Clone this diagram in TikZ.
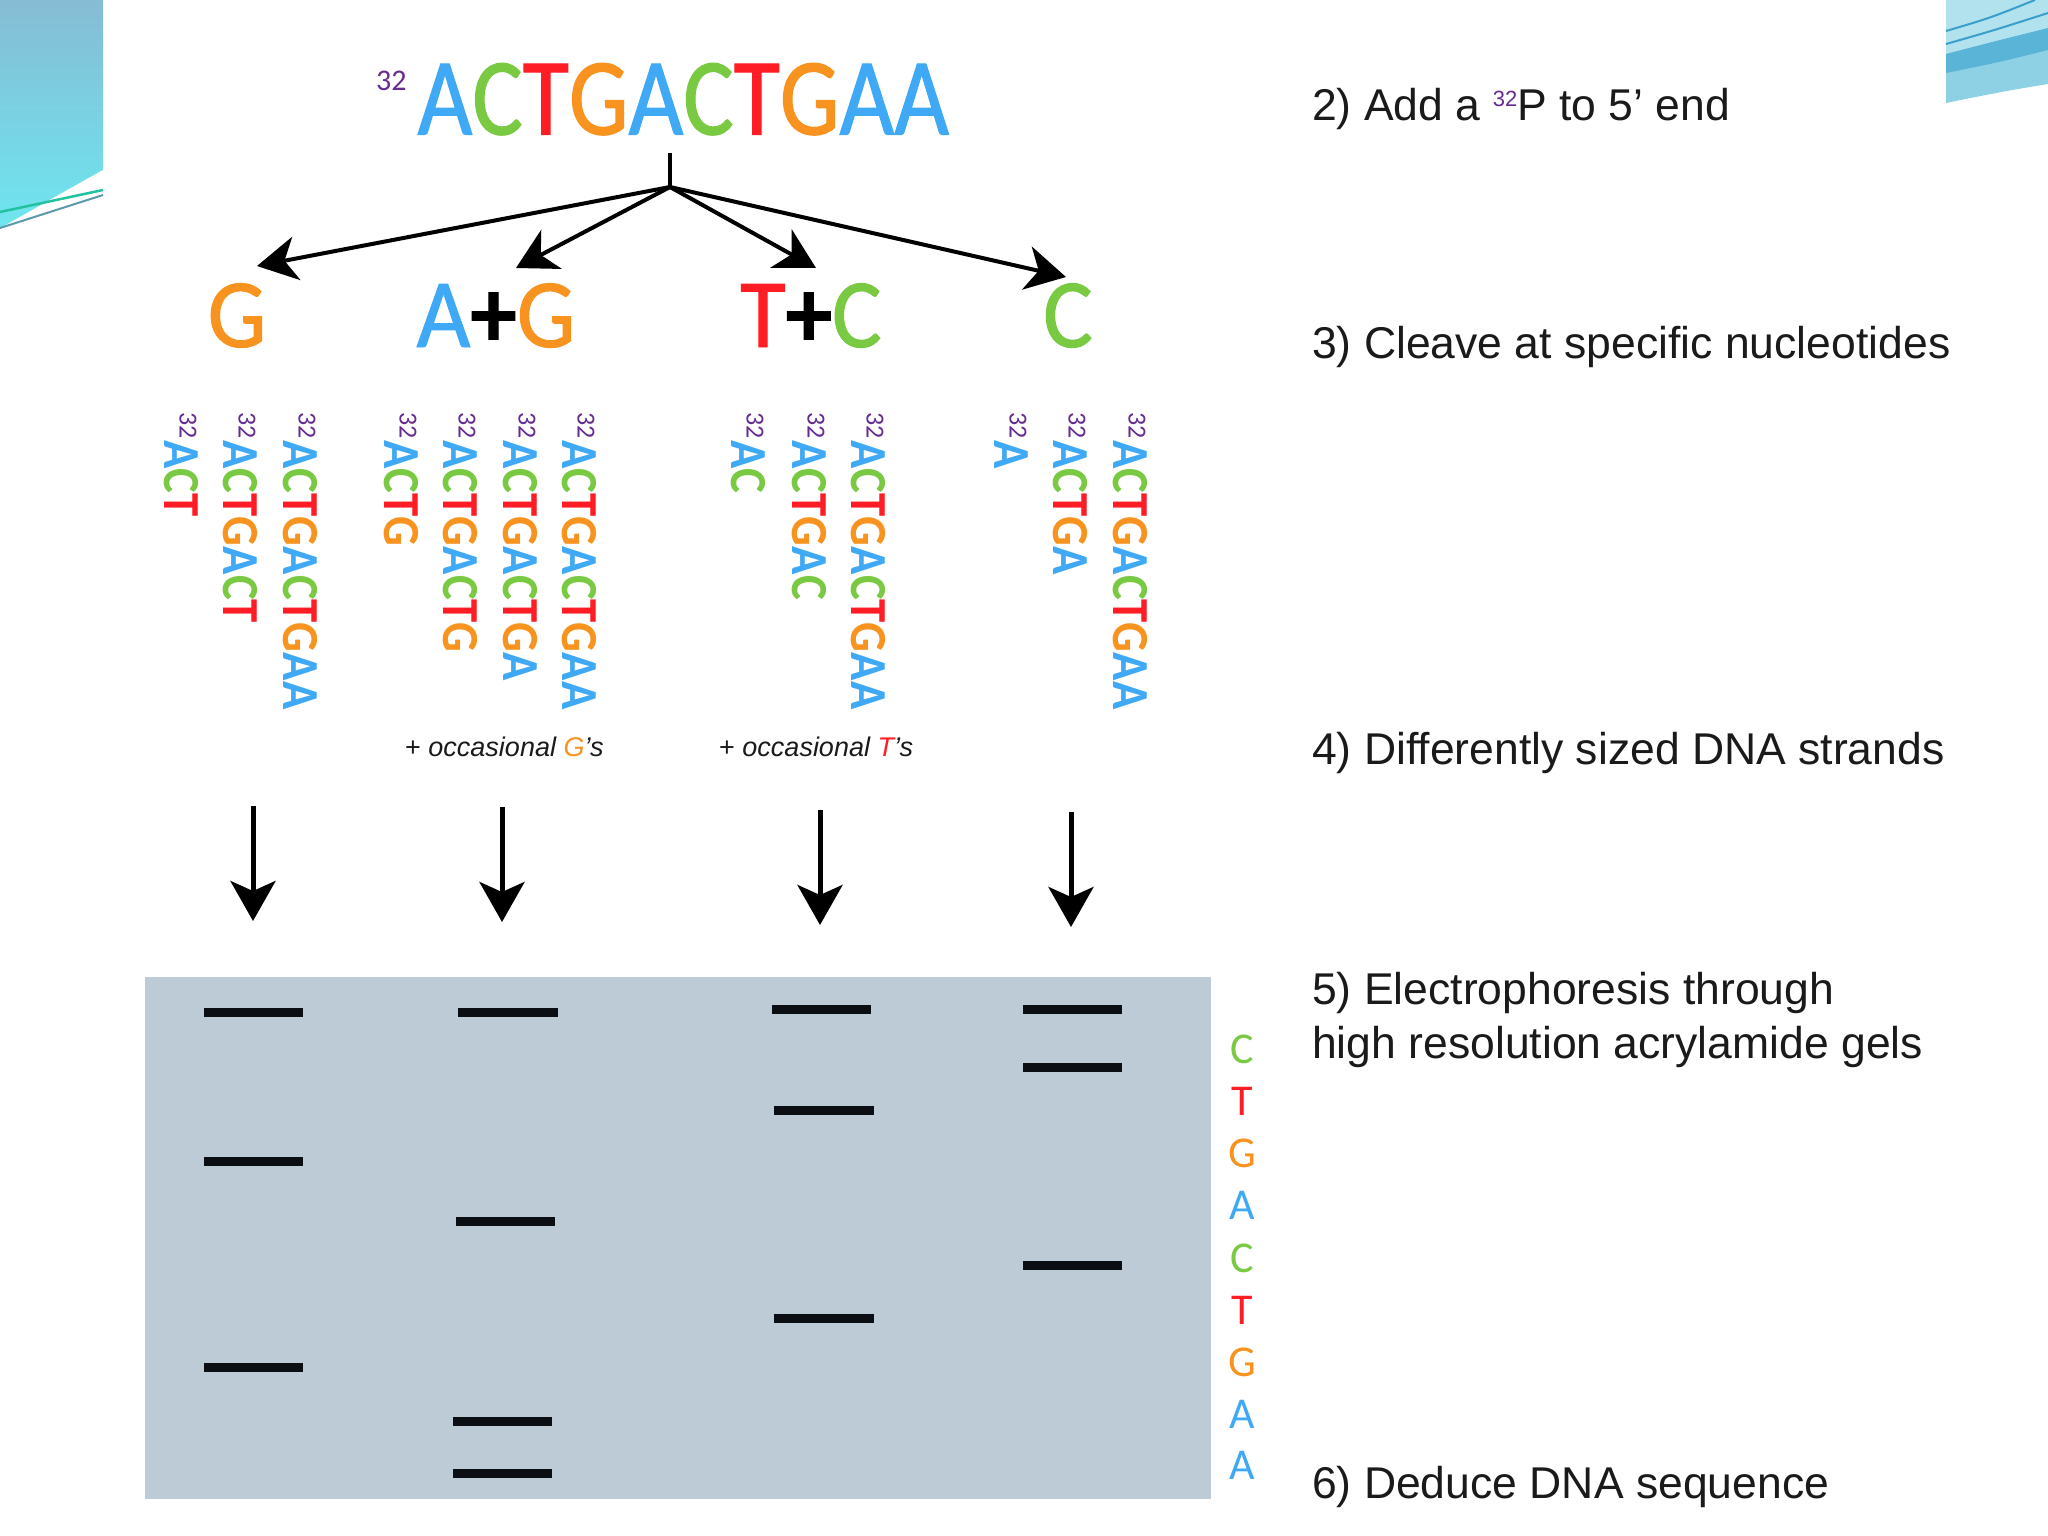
\documentclass[tikz,border=0pt]{standalone}
\usepackage{fontspec}
\setmainfont{Liberation Sans}
\newfontfamily\titlef[FakeStretch=0.86,FakeBold=1]{Carlito}
\newfontfamily\lanef[FakeStretch=0.95,FakeBold=1]{Carlito}
\newfontfamily\strandf[FakeStretch=0.9]{Carlito}
\newfontfamily\seqf{Carlito}
\usetikzlibrary{arrows.meta}
\definecolor{dnaA}{HTML}{3FA9F5}
\definecolor{dnaC}{HTML}{7AC943}
\definecolor{dnaT}{HTML}{FF1D25}
\definecolor{dnaG}{HTML}{F7931E}
\definecolor{isotope}{HTML}{662D91}
\definecolor{gelc}{HTML}{BCCBD5}
\definecolor{bandc}{HTML}{0B0F13}
\definecolor{txt}{HTML}{1A1A1A}
\definecolor{decoTop}{HTML}{86BCD4}
\definecolor{decoBot}{HTML}{6EE6F0}
\definecolor{decoGreen}{HTML}{22C2A0}
\definecolor{decoGray}{HTML}{5A9AAA}
\definecolor{rdLight}{HTML}{B2E2EE}
\definecolor{rdMid}{HTML}{8ED0E4}
\definecolor{rdBand}{HTML}{5AB4D8}
\definecolor{rdLine}{HTML}{3A9FCB}
\newcommand\NucA{\textcolor{dnaA}{A}}
\newcommand\NucC{\textcolor{dnaC}{C}}
\newcommand\NucT{\textcolor{dnaT}{T}}
\newcommand\NucG{\textcolor{dnaG}{G}}
\newcommand\isoS{\raisebox{15pt}{\seqf\mdseries\fontsize{26}{26}\selectfont\color{isotope}32}\hspace{2pt}}
\begin{document}
\begin{tikzpicture}[x=1pt,y=-1pt,
  branch/.style={line width=4pt, -{Stealth[length=40pt,width=44pt,inset=12pt]}},
  droparrow/.style={line width=5pt, -{Stealth[length=40pt,width=45pt,inset=10pt]}},
  lanelbl/.style={anchor=base, inner sep=0, font=\lanef\fontsize{98}{98}\selectfont},
  strand/.style={rotate=-90, anchor=base west, inner sep=0, font=\strandf\bfseries\fontsize{52}{52}\selectfont},
  band/.style={line width=9pt, draw=bandc},
  seqlet/.style={anchor=base, inner sep=0, font=\seqf\fontsize{44}{44}\selectfont},
  caption/.style={anchor=base west, inner sep=0, text=txt, font=\fontsize{44.5}{52}\selectfont},
  occ/.style={anchor=base west, inner sep=0, text=txt, font=\fontsize{27}{30}\selectfont},
]
\useasboundingbox (0,0) rectangle (2048,1536);
\fill[white] (0,0) rectangle (2048,1536);

% left decoration
\shade[top color=decoTop, bottom color=decoBot] (0,0) -- (103,0) -- (103,170) -- (0,228) -- cycle;
\fill[white] (103,170) -- (103,190) -- (45.7,202.3) -- cycle;
\draw[decoGreen, line width=2.5pt] (0,212) -- (103,190);
\draw[decoGray, line width=2pt] (0,228) -- (103,195);

% right decoration
\fill[rdMid] (1946,0) -- (2048,0) -- (2048,84) .. controls (2010,90) and (1975,97) .. (1946,103) -- cycle;
\fill[rdLight] (1946,0) -- (2048,0) -- (2048,28) .. controls (2000,40) .. (1946,54) -- cycle;
\fill[rdBand] (1946,54) .. controls (2000,40) .. (2048,28) -- (2048,50) .. controls (2000,62) .. (1946,73) -- cycle;
\draw[rdLine, line width=2pt] (1946,31) .. controls (1990,18) .. (2035,0);
\draw[rdLine, line width=2pt] (1946,44) .. controls (1995,30) .. (2048,13);

% title sequence
\node[anchor=base west, inner sep=0] (seq) at (376,134.5)
  {\raisebox{43.5pt}{\seqf\fontsize{30}{30}\selectfont\color{isotope}32}\hspace{11pt}%
   \titlef\fontsize{110}{110}\selectfont\NucA\NucC\NucT\NucG\NucA\NucC\NucT\NucG\NucA\NucA};

% branching arrows
\coordinate (stemtop) at (670,153);
\coordinate (hub) at (670,187);
\coordinate (tipG) at (257,266);
\coordinate (tipAG) at (516,268);
\coordinate (tipTC) at (816,268);
\coordinate (tipC) at (1066,277);
\draw[line width=4pt] (stemtop) -- (hub);
\draw[branch] (hub) -- (tipG);
\draw[branch] (hub) -- (tipAG);
\draw[branch] (hub) -- (tipTC);
\draw[branch] (hub) -- (tipC);

% lane labels
\node[lanelbl] (laneG) at (237,347) {\NucG};
\node[lanelbl] (laneAG) at (496,347) {\NucA\textbf{+}\NucG};
\node[lanelbl] (laneTC) at (811,347) {\NucT\textbf{+}\NucC};
\node[lanelbl] (laneC) at (1068,347) {\NucC};

% strands
\node[strand] (g1) at (164.5,412) {\isoS\NucA\NucC\NucT};
\node[strand] (g2) at (223.5,412) {\isoS\NucA\NucC\NucT\NucG\NucA\NucC\NucT};
\node[strand] (g3) at (283.5,412) {\isoS\NucA\NucC\NucT\NucG\NucA\NucC\NucT\NucG\NucA\NucA};
\node[strand] (ag1) at (384.5,412) {\isoS\NucA\NucC\NucT\NucG};
\node[strand] (ag2) at (443.5,412) {\isoS\NucA\NucC\NucT\NucG\NucA\NucC\NucT\NucG};
\node[strand] (ag3) at (503.5,412) {\isoS\NucA\NucC\NucT\NucG\NucA\NucC\NucT\NucG\NucA};
\node[strand] (ag4) at (562.5,412) {\isoS\NucA\NucC\NucT\NucG\NucA\NucC\NucT\NucG\NucA\NucA};
\node[strand] (tc1) at (731.5,412) {\isoS\NucA\NucC};
\node[strand] (tc2) at (792.5,412) {\isoS\NucA\NucC\NucT\NucG\NucA\NucC};
\node[strand] (tc3) at (851.5,412) {\isoS\NucA\NucC\NucT\NucG\NucA\NucC\NucT\NucG\NucA\NucA};
\node[strand] (c1) at (994.5,412) {\isoS\NucA};
\node[strand] (c2) at (1053.5,412) {\isoS\NucA\NucC\NucT\NucG\NucA};
\node[strand] (c3) at (1113.5,412) {\isoS\NucA\NucC\NucT\NucG\NucA\NucC\NucT\NucG\NucA\NucA};

% occasional notes
\node[occ] (occG) at (405,756) {+ \textit{occasional \textcolor{dnaG}{G}'s}};
\node[occ] (occT) at (719,756) {+ \textit{occasional \textcolor{dnaT}{T}'s}};

% down arrows
\coordinate (d1s) at (253,806); \coordinate (d1e) at (253,921);
\coordinate (d2s) at (502,807); \coordinate (d2e) at (502,922);
\coordinate (d3s) at (820,810); \coordinate (d3e) at (820,925);
\coordinate (d4s) at (1071,812); \coordinate (d4e) at (1071,927);
\draw[droparrow] (d1s) -- (d1e);
\draw[droparrow] (d2s) -- (d2e);
\draw[droparrow] (d3s) -- (d3e);
\draw[droparrow] (d4s) -- (d4e);

% gel
\node[fill=gelc, anchor=north west, inner sep=0, minimum width=1066pt, minimum height=522pt] (gel) at (145,977) {};
\draw[band] (204,1012) -- (303,1012);
\draw[band] (204,1161) -- (303,1161);
\draw[band] (204,1367) -- (303,1367);
\draw[band] (458,1012) -- (558,1012);
\draw[band] (456,1221) -- (555,1221);
\draw[band] (453,1421) -- (552,1421);
\draw[band] (453,1473) -- (552,1473);
\draw[band] (772,1009) -- (871,1009);
\draw[band] (774,1110) -- (874,1110);
\draw[band] (774,1318) -- (874,1318);
\draw[band] (1023,1009) -- (1122,1009);
\draw[band] (1023,1067) -- (1122,1067);
\draw[band] (1023,1265) -- (1122,1265);

% deduced sequence
\node[seqlet] (r1) at (1242,1063) {\NucC};
\node[seqlet] (r2) at (1242,1115) {\NucT};
\node[seqlet] (r3) at (1242,1167) {\NucG};
\node[seqlet] (r4) at (1242,1219) {\NucA};
\node[seqlet] (r5) at (1242,1272) {\NucC};
\node[seqlet] (r6) at (1242,1324) {\NucT};
\node[seqlet] (r7) at (1242,1376) {\NucG};
\node[seqlet] (r8) at (1242,1428) {\NucA};
\node[seqlet] (r9) at (1242,1479) {\NucA};

% step captions
\node[caption] (s2) at (1312,121) {2) Add a \raisebox{14pt}{\fontsize{22}{22}\selectfont\color{isotope}32}P to 5’ end};
\node[caption] (s3) at (1312,358) {3) Cleave at specific nucleotides};
\node[caption] (s4) at (1312,764) {4) Differently sized DNA strands};
\node[caption] (s5) at (1312,1004) {5) Electrophoresis through};
\node[caption] (s5b) at (1312,1058) {high resolution acrylamide gels};
\node[caption] (s6) at (1312,1498) {6) Deduce DNA sequence};
\end{tikzpicture}
\end{document}
